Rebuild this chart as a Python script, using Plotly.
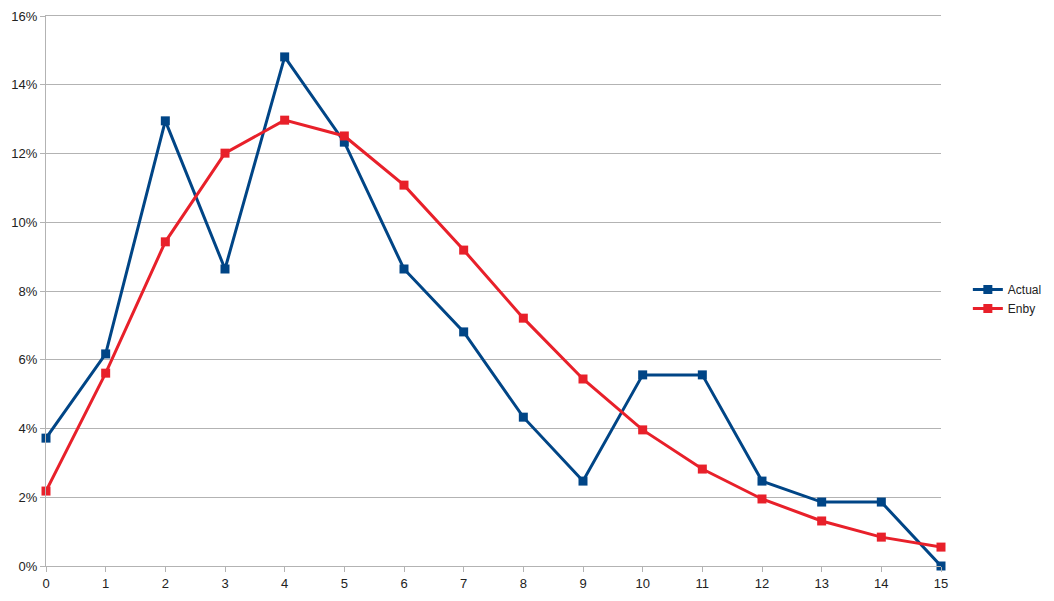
import plotly.graph_objects as go

# Data (percent)
x_vals = list(range(16))
actual = [3.72, 6.17, 12.95, 8.64, 14.81, 12.33, 8.64, 6.81, 4.33, 2.47,
          5.56, 5.56, 2.47, 1.86, 1.86, 0.0]
enby = [2.18, 5.61, 9.43, 12.01, 12.97, 12.51, 11.08, 9.19, 7.21, 5.44,
        3.96, 2.82, 1.95, 1.31, 0.84, 0.55]
y_ticks = [0, 2, 4, 6, 8, 10, 12, 14, 16]
y_labels = [f"{v}%" for v in y_ticks]

fig = go.Figure()
fig.add_trace(go.Scatter(x=x_vals, y=actual, name="Actual", mode="lines+markers",
                         line=dict(color="#004586", width=3),
                         marker=dict(symbol="square", size=9, color="#004586"),
                         cliponaxis=False))
fig.add_trace(go.Scatter(x=x_vals, y=enby, name="Enby", mode="lines+markers",
                         line=dict(color="#e8202a", width=3),
                         marker=dict(symbol="square", size=9, color="#e8202a"),
                         cliponaxis=False))

fig.update_xaxes(range=[0, 15], tickvals=x_vals, showgrid=False, automargin=False,
                 showline=True, linecolor="#b3b3b3", linewidth=1, mirror=True,
                 ticks="outside", ticklen=5, tickcolor="#b3b3b3",
                 zeroline=False, tickfont=dict(size=13, color="#222"))
fig.update_yaxes(range=[0, 16], tickvals=y_ticks, ticktext=y_labels, automargin=False,
                 showgrid=True, gridcolor="#b3b3b3", gridwidth=1,
                 showline=True, linecolor="#b3b3b3", linewidth=1,
                 ticks="outside", ticklen=5, tickcolor="#b3b3b3",
                 zeroline=False, tickfont=dict(size=13, color="#222"))

# page body has an 8px margin; height kept so the page does not scroll,
# no autoexpand so the legend does not squeeze the plot area
fig.update_layout(
    width=1046, height=585, autosize=False,
    margin=dict(l=38, r=113, t=8, b=27, autoexpand=False),
    plot_bgcolor="white", paper_bgcolor="white",
    font=dict(family="Liberation Sans, Arial, sans-serif", size=13, color="#222"),
    legend=dict(x=1.03, y=0.4855, xanchor="left", yanchor="middle",
                font=dict(size=12), itemwidth=30, tracegroupgap=0),
    showlegend=True,
)

fig.write_html("out.html")
